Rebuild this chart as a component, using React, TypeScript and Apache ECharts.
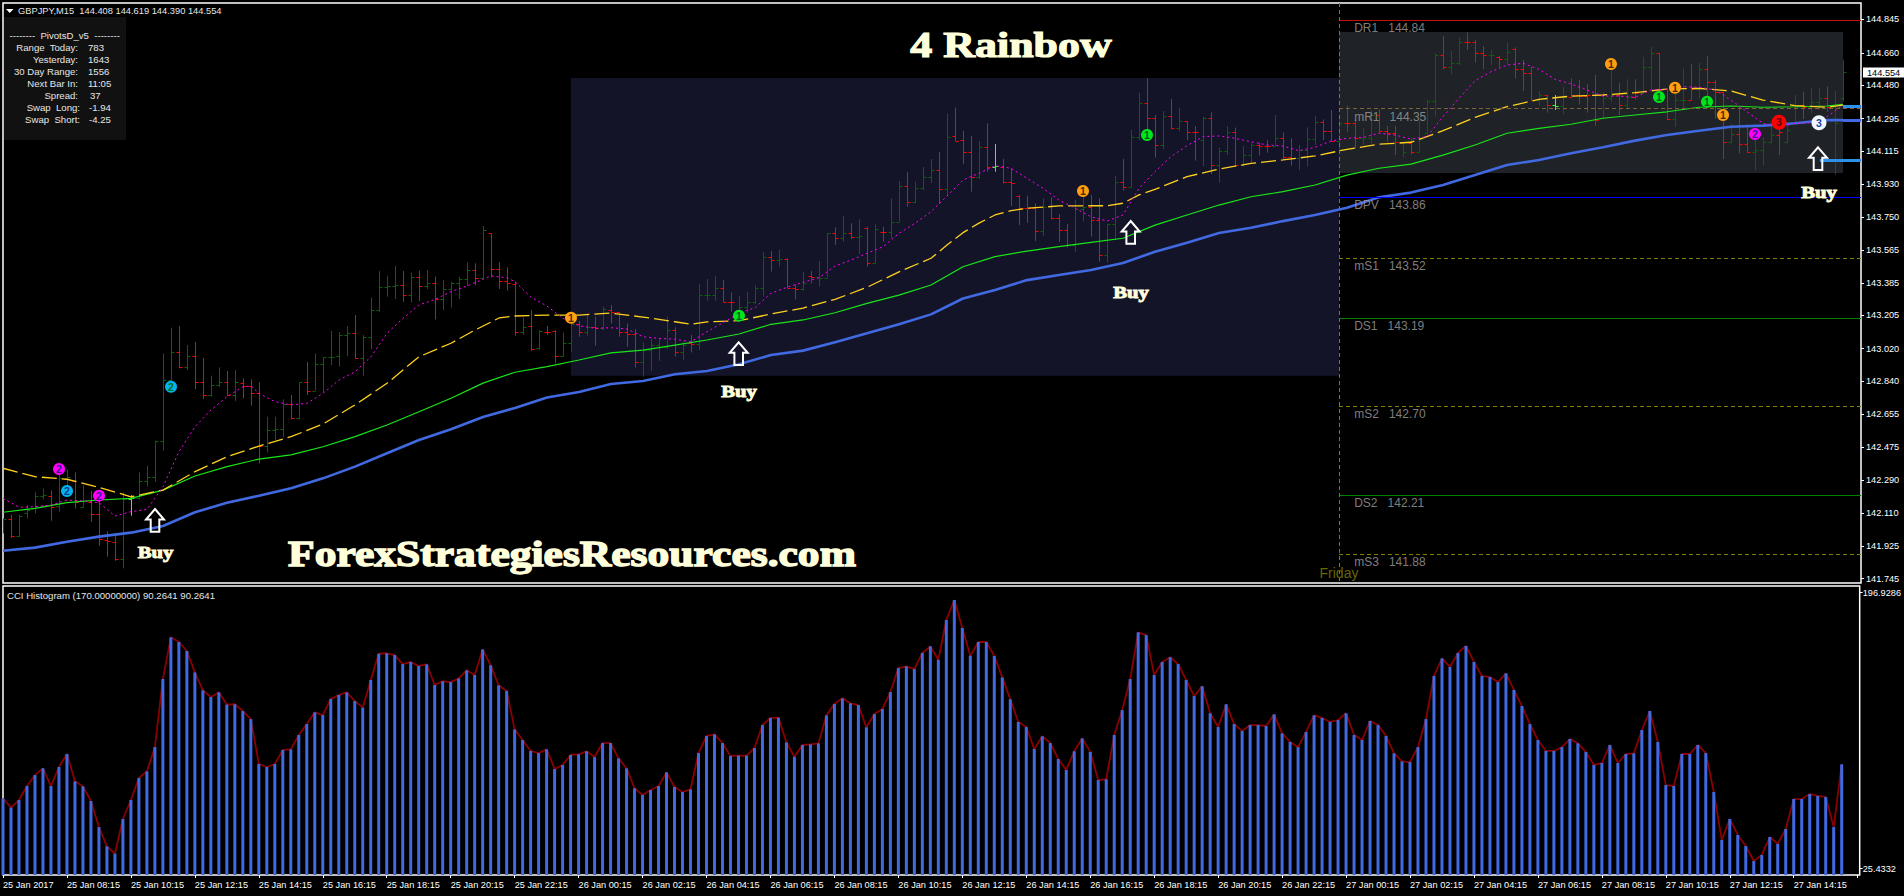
import React, { useEffect, useRef } from "react";
import * as echarts from "echarts";

const timeLabels = ["25 Jan 2017","25 Jan 08:15","25 Jan 10:15","25 Jan 12:15","25 Jan 14:15","25 Jan 16:15","25 Jan 18:15","25 Jan 20:15","25 Jan 22:15","26 Jan 00:15","26 Jan 02:15","26 Jan 04:15","26 Jan 06:15","26 Jan 08:15","26 Jan 10:15","26 Jan 12:15","26 Jan 14:15","26 Jan 16:15","26 Jan 18:15","26 Jan 20:15","26 Jan 22:15","27 Jan 00:15","27 Jan 02:15","27 Jan 04:15","27 Jan 06:15","27 Jan 08:15","27 Jan 10:15","27 Jan 12:15","27 Jan 14:15"];
const priceTicks = [144.845,144.66,144.48,144.295,144.115,143.93,143.75,143.565,143.385,143.205,143.02,142.84,142.655,142.475,142.29,142.11,141.925,141.745];
const cciTicks = [25.4332,196.9286];

const barOpen = [142.070,142.073,141.983,142.107,142.134,142.203,142.203,142.147,142.295,142.286,
142.140,142.171,142.103,141.959,141.950,141.855,142.184,142.194,142.288,142.306,
142.506,142.846,142.999,142.920,142.979,142.833,142.763,142.818,142.837,142.763,
142.827,142.813,142.772,142.480,142.569,142.576,142.711,142.637,142.833,142.787,
142.935,142.972,142.979,143.095,143.105,142.970,143.083,143.234,143.363,143.367,
143.373,143.317,143.419,143.367,143.382,143.293,143.349,143.386,143.404,143.456,
143.410,143.659,143.460,143.395,143.378,143.114,143.146,143.022,143.114,143.120,
142.979,143.049,143.155,143.114,143.142,143.133,143.234,143.221,143.110,143.101,
142.944,143.012,143.040,143.031,143.123,142.999,143.049,143.046,143.317,143.317,
143.358,143.280,143.234,143.253,143.280,143.354,143.526,143.511,143.515,143.354,
143.349,143.423,143.415,143.414,143.659,143.632,143.663,143.641,143.691,143.493,
143.669,143.669,143.724,143.922,143.835,143.909,143.970,144.012,143.905,144.199,
144.176,144.108,143.970,144.140,144.029,144.029,143.945,143.866,143.798,143.798,
143.672,143.811,143.742,143.678,143.594,143.794,143.807,143.733,143.539,143.711,
143.942,143.918,144.195,144.380,144.297,144.149,144.310,144.245,144.282,144.223,
144.176,144.297,144.038,144.117,144.223,144.038,144.093,144.149,144.145,144.145,
144.189,144.080,144.075,144.121,144.180,144.278,144.228,144.171,144.273,144.269,
144.186,144.186,144.315,144.226,144.217,144.167,144.162,144.108,144.213,144.394,
144.648,144.583,144.601,144.718,144.718,144.657,144.648,144.635,144.623,144.681,
144.568,144.546,144.398,144.426,144.370,144.367,144.413,144.426,144.420,144.426,
144.296,144.407,144.426,144.370,144.417,144.435,144.583,144.657,144.457,144.291,
144.398,144.398,144.459,144.568,144.500,144.444,144.163,144.209,144.152,144.112,
144.121,144.167,144.204,144.167,144.269,144.370,144.361,144.389,144.407,144.361,144.408];

const barHigh = [142.079,142.098,142.099,142.153,142.225,142.245,142.234,142.329,142.351,142.334,
142.264,142.231,142.199,142.007,141.999,142.223,142.208,142.334,142.371,142.510,
142.994,143.136,143.145,143.040,143.057,142.968,142.870,142.916,142.896,142.901,
142.855,142.850,142.833,142.643,142.643,142.739,142.763,142.833,142.946,142.994,
142.972,143.118,143.112,143.145,143.206,143.095,143.304,143.450,143.424,143.478,
143.450,143.441,143.452,143.456,143.419,143.400,143.391,143.419,143.498,143.493,
143.700,143.659,143.499,143.471,143.391,143.194,143.234,143.123,143.147,143.123,
143.110,143.160,143.173,143.207,143.197,143.253,143.262,143.221,143.160,143.129,
143.055,143.074,143.077,143.197,143.138,143.059,143.096,143.378,143.406,143.423,
143.401,143.332,143.312,143.336,143.371,143.554,143.561,143.567,143.521,143.377,
143.447,143.450,143.506,143.659,143.693,143.755,143.715,143.737,143.696,143.709,
143.696,143.853,143.949,144.000,143.945,144.027,144.071,144.110,144.324,144.356,
144.228,144.199,144.171,144.269,144.154,144.071,144.019,143.872,143.868,143.825,
143.853,143.859,143.766,143.711,143.844,143.894,143.872,143.853,143.711,143.977,
144.071,144.232,144.439,144.518,144.315,144.337,144.404,144.356,144.282,144.254,
144.306,144.330,144.136,144.254,144.245,144.143,144.162,144.162,144.176,144.315,
144.219,144.186,144.149,144.247,144.310,144.291,144.343,144.300,144.367,144.287,
144.241,144.343,144.346,144.254,144.254,144.164,144.186,144.287,144.398,144.657,
144.753,144.670,144.745,144.773,144.731,144.697,144.675,144.642,144.718,144.690,
144.620,144.583,144.448,144.426,144.426,144.472,144.518,144.509,144.487,144.537,
144.441,144.568,144.494,144.513,144.513,144.638,144.694,144.657,144.463,144.463,
144.574,144.596,144.605,144.642,144.509,144.444,144.265,144.361,144.263,144.195,
144.189,144.259,144.250,144.259,144.426,144.444,144.468,144.468,144.472,144.448,144.619];

const barLow = [141.996,141.972,141.977,142.079,142.107,142.184,142.066,142.116,142.199,142.134,
142.140,142.061,141.928,141.867,141.844,141.802,142.094,142.184,142.255,142.282,
142.454,142.842,142.911,142.901,142.796,142.741,142.754,142.809,142.759,142.730,
142.744,142.704,142.384,142.445,142.513,142.528,142.628,142.628,142.763,142.787,
142.778,142.929,142.920,142.979,142.962,142.870,143.018,143.225,143.308,143.295,
143.280,143.275,143.284,143.350,143.182,143.234,143.247,143.295,143.367,143.371,
143.410,143.415,143.351,143.342,143.092,143.096,143.007,143.012,143.096,142.939,
142.976,143.003,143.086,143.092,143.037,143.123,143.160,143.086,143.031,142.915,
142.865,142.898,142.952,143.018,142.976,142.957,142.999,143.012,143.286,143.286,
143.277,143.225,143.234,143.220,143.268,143.308,143.447,143.475,143.354,143.293,
143.342,143.382,143.364,143.414,143.595,143.613,143.628,143.543,143.475,143.493,
143.613,143.632,143.724,143.807,143.829,143.899,143.938,143.822,143.872,144.171,
144.043,143.890,143.960,144.001,144.001,143.936,143.811,143.705,143.718,143.617,
143.646,143.737,143.613,143.581,143.557,143.724,143.641,143.502,143.498,143.622,
143.896,143.914,144.176,144.232,144.080,144.125,144.236,144.226,144.176,144.062,
144.032,143.988,143.940,144.093,144.029,144.029,144.054,144.090,144.106,144.143,
144.069,144.034,144.010,144.029,144.149,144.176,144.167,144.121,144.223,144.130,
144.149,144.158,144.217,144.167,144.093,144.079,144.097,144.112,144.213,144.306,
144.568,144.542,144.592,144.675,144.605,144.570,144.592,144.583,144.592,144.518,
144.448,144.398,144.365,144.328,144.343,144.320,144.407,144.374,144.328,144.256,
144.296,144.389,144.315,144.352,144.402,144.435,144.453,144.453,144.287,144.250,
144.346,144.398,144.407,144.380,144.296,144.071,144.158,144.102,144.106,144.010,
144.034,144.158,144.093,144.158,144.269,144.293,144.324,144.343,144.333,143.986,144.390];

const barClose = [142.073,141.983,142.092,142.125,142.203,142.208,142.144,142.301,142.310,142.171,
142.175,142.103,141.963,141.953,141.855,142.184,142.194,142.288,142.306,142.506,
142.846,142.999,142.920,142.979,142.833,142.763,142.818,142.837,142.763,142.837,
142.813,142.772,142.480,142.569,142.576,142.711,142.637,142.833,142.787,142.935,
142.972,142.975,143.095,143.105,142.970,143.083,143.234,143.363,143.367,143.373,
143.317,143.419,143.367,143.382,143.293,143.349,143.386,143.404,143.456,143.414,
143.678,143.460,143.395,143.382,143.114,143.142,143.018,143.120,143.114,142.979,
143.049,143.155,143.114,143.142,143.133,143.238,143.221,143.110,143.101,142.944,
143.012,143.040,143.031,143.123,142.999,143.040,143.046,143.317,143.317,143.358,
143.280,143.277,143.253,143.280,143.354,143.526,143.511,143.515,143.354,143.349,
143.382,143.415,143.414,143.659,143.632,143.663,143.641,143.645,143.493,143.683,
143.669,143.724,143.922,143.835,143.909,143.970,144.012,143.905,144.195,144.173,
144.108,143.970,144.140,144.029,144.032,143.945,143.940,143.798,143.798,143.672,
143.807,143.742,143.678,143.594,143.794,143.807,143.733,143.539,143.711,143.942,
143.918,144.195,144.380,144.297,144.149,144.310,144.245,144.282,144.223,144.223,
144.297,144.038,144.117,144.223,144.038,144.093,144.149,144.145,144.145,144.189,
144.080,144.075,144.121,144.180,144.278,144.228,144.171,144.273,144.269,144.186,
144.186,144.315,144.226,144.217,144.167,144.112,144.108,144.180,144.394,144.648,
144.583,144.601,144.718,144.718,144.657,144.648,144.648,144.623,144.666,144.568,
144.546,144.398,144.426,144.370,144.367,144.413,144.426,144.420,144.426,144.287,
144.407,144.426,144.370,144.417,144.435,144.583,144.657,144.457,144.291,144.398,
144.398,144.459,144.568,144.500,144.444,144.163,144.209,144.152,144.112,144.121,
144.167,144.204,144.222,144.232,144.370,144.361,144.389,144.407,144.361,144.269,144.554];

const redBars = [1,6,9,11,12,13,14,22,24,25,28,30,31,32,36,38,44,50,52,54,59,61,62,63,64,66,68,69,72,74,76,77,78,79,84,86,90,91,96,98,99,101,104,106,108,110,113,117,119,120,121,123,125,126,127,128,129,131,132,133,136,137,140,143,144,146,148,149,151,154,157,158,160,161,165,166,168,169,172,173,174,176,180,183,184,185,187,189,190,191,193,196,197,198,199,202,204,207,208,211,213,214,215,217,218,222,225,228];
const limeBars = [16,124,194];

const blueMA: number[][] = [[0,141.900],[4,141.917],[8,141.950],[12,141.978],[16,142.000],[20,142.037],[24,142.113],[28,142.166],[32,142.205],[36,142.246],[40,142.301],[44,142.366],[48,142.440],[52,142.514],[56,142.573],[60,142.641],[64,142.691],[68,142.749],[72,142.780],[76,142.824],[80,142.841],[84,142.878],[88,142.896],[92,142.933],[96,142.985],[100,143.009],[104,143.055],[108,143.105],[112,143.155],[116,143.210],[120,143.298],[124,143.345],[128,143.400],[132,143.428],[136,143.456],[140,143.495],[144,143.557],[148,143.607],[152,143.661],[156,143.690],[160,143.727],[164,143.761],[168,143.801],[172,143.859],[176,143.885],[180,143.927],[184,143.982],[188,144.038],[192,144.066],[196,144.103],[200,144.136],[204,144.173],[208,144.204],[212,144.228],[216,144.250],[220,144.256],[224,144.269],[228,144.287],[230,144.287]];

const limeMA: number[][] = [[0,142.113],[4,142.135],[8,142.166],[12,142.181],[16,142.190],[20,142.236],[24,142.314],[28,142.366],[32,142.408],[36,142.431],[40,142.476],[44,142.532],[48,142.597],[52,142.670],[56,142.745],[60,142.829],[64,142.889],[68,142.920],[72,142.957],[76,142.997],[80,143.012],[84,143.040],[88,143.068],[92,143.101],[96,143.155],[100,143.179],[104,143.219],[108,143.271],[112,143.317],[116,143.373],[120,143.474],[124,143.530],[128,143.561],[132,143.585],[136,143.609],[140,143.632],[144,143.705],[148,143.761],[152,143.816],[156,143.862],[160,143.890],[164,143.927],[168,143.982],[172,144.020],[176,144.043],[180,144.093],[184,144.149],[188,144.214],[192,144.241],[196,144.264],[200,144.297],[204,144.315],[208,144.333],[212,144.358],[216,144.365],[220,144.358],[224,144.361],[228,144.365],[230,144.374]];

const goldMA: number[][] = [[0,142.357],[4,142.310],[8,142.296],[12,142.251],[16,142.199],[20,142.236],[24,142.338],[28,142.421],[32,142.480],[36,142.532],[40,142.602],[44,142.708],[48,142.828],[52,142.975],[56,143.050],[59,143.123],[62,143.190],[64,143.201],[68,143.206],[72,143.206],[76,143.217],[80,143.195],[84,143.169],[86,143.155],[88,143.168],[92,143.175],[96,143.212],[100,143.245],[104,143.293],[108,143.360],[112,143.446],[116,143.521],[118,143.594],[120,143.663],[122,143.716],[124,143.761],[126,143.785],[128,143.798],[132,143.811],[136,143.812],[138,143.812],[140,143.826],[142,143.872],[144,143.903],[148,143.973],[152,144.016],[156,144.047],[160,144.066],[164,144.088],[168,144.125],[172,144.153],[176,144.164],[180,144.228],[184,144.302],[188,144.361],[192,144.402],[196,144.420],[200,144.426],[204,144.439],[208,144.459],[212,144.463],[216,144.448],[220,144.398],[224,144.367],[228,144.358],[230,144.370]];

const magentaMA: number[][] = [[0,142.190],[2,142.141],[4,142.144],[6,142.153],[8,142.181],[10,142.176],[12,142.166],[14,142.092],[16,142.116],[18,142.129],[20,142.255],[22,142.449],[24,142.587],[26,142.680],[28,142.754],[30,142.809],[31,142.813],[32,142.772],[34,142.726],[36,142.708],[38,142.717],[40,142.772],[42,142.846],[44,142.892],[46,142.975],[48,143.105],[50,143.188],[52,143.262],[54,143.293],[56,143.336],[58,143.367],[61,143.423],[63,143.413],[64,143.391],[66,143.305],[68,143.256],[70,143.188],[72,143.147],[74,143.133],[76,143.136],[78,143.129],[80,143.086],[82,143.077],[84,143.072],[86,143.058],[88,143.114],[90,143.164],[92,143.216],[94,143.247],[96,143.327],[98,143.360],[100,143.388],[102,143.413],[104,143.478],[106,143.511],[108,143.548],[110,143.585],[112,143.659],[114,143.715],[116,143.779],[118,143.866],[120,143.955],[122,143.992],[124,144.034],[126,144.020],[128,143.964],[130,143.909],[132,143.844],[134,143.798],[136,143.751],[138,143.727],[140,143.761],[142,143.909],[144,144.001],[146,144.084],[148,144.145],[150,144.195],[152,144.199],[154,144.186],[156,144.167],[158,144.149],[160,144.143],[162,144.117],[164,144.136],[166,144.171],[168,144.186],[170,144.191],[172,144.214],[174,144.204],[176,144.182],[178,144.195],[180,144.306],[182,144.408],[184,144.505],[186,144.555],[188,144.592],[190,144.602],[192,144.568],[194,144.513],[196,144.487],[198,144.454],[200,144.420],[202,144.420],[204,144.413],[206,144.454],[208,144.458],[210,144.472],[212,144.469],[214,144.454],[216,144.398],[218,144.333],[220,144.269],[222,144.247],[224,144.269],[226,144.272],[228,144.306],[230,144.370]];

const cciValues = [69.1,63.4,68.1,76.8,83.6,87.8,76.8,88.6,96.7,79.7,76.6,67.5,51.3,39.3,34.8,56.3,68.1,81.8,85.9,101.0,143.3,169.2,166.3,160.7,147.4,136.3,132.1,135.0,127.4,127.6,123.4,118.4,90.5,88.6,90.5,99.2,99.6,108.5,115.3,122.6,120.9,130.9,133.4,135.0,129.6,125.5,142.7,159.0,159.3,158.2,152.6,153.9,151.4,152.4,139.6,141.9,141.4,143.7,148.7,145.8,161.7,151.8,139.4,135.9,112.0,105.4,98.6,97.3,99.6,87.4,89.9,96.1,96.5,98.4,94.8,103.5,103.5,94.0,87.8,75.4,
71.2,74.3,76.8,85.3,76.2,73.1,74.7,97.3,107.9,108.9,103.5,95.5,95.7,95.7,100.4,114.7,119.1,119.3,103.9,95.0,102.3,102.7,103.3,120.7,127.8,131.3,128.2,127.1,113.3,121.5,124.7,135.2,150.1,151.2,149.5,159.5,163.6,155.3,180.0,192.4,175.0,157.8,166.3,166.3,157.6,144.3,130.7,116.6,113.5,99.8,107.7,103.5,93.6,86.8,98.4,106.4,98.0,80.5,81.0,108.5,124.0,143.3,172.3,170.6,145.8,153.9,156.8,152.6,142.7,132.7,138.8,122.0,113.5,127.6,115.3,111.0,114.7,114.7,114.1,121.3,
109.5,104.2,101.0,110.4,120.7,119.1,116.6,117.8,122.0,108.5,105.4,117.2,114.7,107.9,97.1,92.1,91.7,101.0,118.4,145.2,156.1,150.8,159.5,163.8,153.9,145.2,144.5,141.4,146.8,136.5,126.5,115.3,105.4,98.6,98.6,101.0,106.0,103.3,98.0,89.9,91.1,102.3,91.1,96.7,97.1,111.6,123.4,104.2,77.4,76.8,96.7,96.7,102.3,97.3,73.1,43.3,56.3,46.4,39.5,30.2,33.9,45.1,40.8,50.1,68.7,68.7,71.8,70.6,70.0,51.3,90.2641];

const pivotNames = ["DR1","mR1","DPV","mS1","DS1","mS2","DS2","mS3"];
const pivotValues = [144.84,144.35,143.86,143.52,143.19,142.70,142.21,141.88];
const pivotColors = ["#c01010","#7d6238","#0000ff","#808000","#008000","#808000","#008000","#808000"];
const pivotDashed = [false,true,false,true,false,true,false,true];

const markerBars = [7,8,12,21,71,92,135,143,201,207,209,213,215,219,222,227];
const markerPrices = [142.353,142.231,142.205,142.809,143.191,143.203,143.894,144.204,144.598,144.415,144.466,144.389,144.315,144.210,144.275,144.272];
const markerDigits = ["2","2","2","2","1","1","1","1","1","1","1","1","1","2","3","3"];
const markerFills = ["#ff00ff","#00b4f0","#ff00ff","#00b4f0","#ffa010","#00e61e","#ffa010","#00e61e","#ffa010","#00e61e","#ffa010","#00e61e","#ffa010","#ff00ff","#ff0000","#f0f8ff"];
const markerInks = ["#3a1a8c","#123a8c","#3a1a8c","#0b6b20","#4a2c00","#0b5c14","#4a2c00","#0b5c14","#4a2c00","#0b5c14","#4a2c00","#0b5c14","#4a2c00","#3a1a8c","#5a0010","#2040a0"];

const tailLevels = [144.365,144.287,144.066];
const tailStarts = [230,230,227.1];
const tailColors = ["#2e90e6","#4169e1","#2e90e6"];

const infoLeft = ["Range  Today:","Yesterday:","30 Day Range:","Next Bar In:","Spread:","Swap  Long:","Swap  Short:"];
const infoRight = ["783","1643","1556","11:05","37","-1.94","-4.25"];

const AXIS_END = 232.25;
const SANS = "Liberation Sans";
const SERIF = "Liberation Serif";
const CREAM = "#ffffdc";

function text(x: number, y: number, t: string, o: any = {}, extra: any = {}) {
  return {
    type: "text", x, y, z: 100, silent: true, ...extra,
    style: { text: t, fill: "#e6e6e6", fontFamily: SANS, fontSize: 9.2, textAlign: "left", textVerticalAlign: "middle", ...o },
  };
}
function serif(x: number, y: number, t: string, size: number, sx: number, lw: number) {
  return text(x, y, t, { fill: CREAM, fontFamily: SERIF, fontWeight: "bold", fontSize: size, stroke: CREAM, lineWidth: lw, textAlign: "center" }, { scaleX: sx });
}
function arrow(x: number, y: number) {
  return {
    type: "polygon", z: 90, silent: true,
    shape: { points: [[x, y], [x + 9, y + 10.5], [x + 4.3, y + 10.5], [x + 4.3, y + 22.7], [x - 4.3, y + 22.7], [x - 4.3, y + 10.5], [x - 9, y + 10.5]] },
    style: { fill: "rgba(0,0,0,0)", stroke: "#ffffff", lineWidth: 2 },
  };
}

export default function App() {
  const ref = useRef<HTMLDivElement>(null);
  useEffect(() => {
    document.body.style.margin = "0";
    document.body.style.background = "#000";
    const chart = echarts.init(ref.current!, undefined, { renderer: "svg" });
    const ohlc = barOpen.map((o, i) => [i, o, barHigh[i], barLow[i], barClose[i]]);
    const red = new Set(redBars);
    const lime = new Set(limeBars);

    const renderBar = (_p: any, api: any) => {
      const i = api.value(0);
      const [x] = api.coord([i, api.value(1)]);
      const px = Math.round(x) + 0.5;
      const yO = Math.round(api.coord([i, api.value(1)])[1]) + 0.5;
      const yH = api.coord([i, api.value(2)])[1];
      const yL = api.coord([i, api.value(3)])[1];
      const yC = Math.round(api.coord([i, api.value(4)])[1]) + 0.5;
      const stroke = lime.has(i) ? "#32ff32" : red.has(i) ? "#ff0000" : "#0e5c0e";
      const style = { stroke, lineWidth: 1 };
      return {
        type: "group",
        children: [
          { type: "line", shape: { x1: px, y1: yH, x2: px, y2: yL }, style: { stroke, lineWidth: 1 } },
          { type: "line", shape: { x1: px - 3, y1: yO, x2: px, y2: yO }, style },
          { type: "line", shape: { x1: px, y1: yC, x2: px + 3, y2: yC }, style },
        ],
      };
    };

    const markers = markerBars.map((b, i) => ({
      value: [b, markerPrices[i]],
      name: markerDigits[i],
      symbolSize: markerDigits[i] === "3" ? 15 : 12,
      itemStyle: { color: markerFills[i], opacity: 1 },
      label: { color: markerInks[i] },
    }));

    chart.setOption({
      animation: false,
      backgroundColor: "#000000",
      grid: [
        { left: 3, top: 3, width: 1858, height: 580, show: true, borderColor: "#ffffff", borderWidth: 1.5, backgroundColor: "transparent" },
        { left: 3, top: 586, width: 1858, height: 289, show: true, borderColor: "#ffffff", borderWidth: 1.5, backgroundColor: "transparent" },
      ],
      xAxis: [
        { type: "value", gridIndex: 0, min: 0, max: AXIS_END, show: false, splitLine: { show: false }, axisLine: { show: false, onZero: false } },
        {
          type: "value", gridIndex: 1, min: 0, max: AXIS_END, interval: 8, splitLine: { show: false },
          axisLine: { show: false, onZero: false },
          axisTick: { show: true, length: 3, lineStyle: { color: "#ffffff" } },
          axisLabel: {
            color: "#ffffff", fontFamily: SANS, fontSize: 9.2, align: "left", margin: 5, showMaxLabel: false, hideOverlap: false,
            formatter: (v: number) => timeLabels[v / 8] ?? "",
          },
        },
      ],
      yAxis: [
        {
          type: "value", gridIndex: 0, position: "right", min: 141.7209, max: 144.936, splitLine: { show: false }, axisLine: { show: false, onZero: false },
          axisTick: { show: true, length: 3, lineStyle: { color: "#ffffff" }, customValues: priceTicks },
          axisLabel: { color: "#ffffff", fontFamily: SANS, fontSize: 9.2, margin: 5, customValues: priceTicks, formatter: (v: number) => v.toFixed(3) },
        },
        {
          type: "value", gridIndex: 1, position: "right", min: 21.5, max: 201.1, splitLine: { show: false }, axisLine: { show: false, onZero: false },
          axisTick: { show: true, length: 3, lineStyle: { color: "#ffffff" }, customValues: cciTicks },
          axisLabel: { color: "#ffffff", fontFamily: SANS, fontSize: 9.2, margin: 3, customValues: cciTicks, formatter: (v: number) => v.toFixed(4) },
        },
      ],
      series: [
        {
          type: "custom", name: "GBPJPY", xAxisIndex: 0, yAxisIndex: 0, z: 2, clip: true,
          renderItem: renderBar, encode: { x: 0, y: [1, 2, 3, 4] }, data: ohlc, silent: true,
          markArea: {
            silent: true,
            data: [
              [{ coord: [71, 144.520], itemStyle: { color: "#141428", opacity: 1 } }, { coord: [167, 142.870] }],
              [{ coord: [167, 144.775], itemStyle: { color: "#1f2226", opacity: 1 } }, { coord: [230, 143.994] }],
            ],
          },
          markLine: {
            silent: true, symbol: "none", label: { show: false },
            data: [
              ...pivotValues.map((v, i) => [
                { coord: [167, v], lineStyle: { color: pivotColors[i], width: 1, opacity: 1, type: pivotDashed[i] ? [4, 3] : "solid" } },
                { coord: [AXIS_END, v] },
              ]),
              [
                { coord: [167, 144.936], lineStyle: { color: "#808000", width: 1, opacity: 1, type: [4, 3] } },
                { coord: [167, 141.7209] },
              ],
              ...tailLevels.map((v, i) => [
                { coord: [tailStarts[i], v], lineStyle: { color: tailColors[i], width: 3, opacity: 1, type: "solid" } },
                { coord: [AXIS_END, v] },
              ]),
            ],
          },
        },
        { type: "line", name: "MA blue", xAxisIndex: 0, yAxisIndex: 0, z: 3, data: blueMA, showSymbol: false, silent: true, lineStyle: { color: "#4169e1", width: 2.6 } },
        { type: "line", name: "MA lime", xAxisIndex: 0, yAxisIndex: 0, z: 3, data: limeMA, showSymbol: false, silent: true, lineStyle: { color: "#19e619", width: 1.2 } },
        { type: "line", name: "MA gold", xAxisIndex: 0, yAxisIndex: 0, z: 3, data: goldMA, showSymbol: false, silent: true, lineStyle: { color: "#ffd21e", width: 1.3, type: [15, 5] } },
        { type: "line", name: "MA magenta", xAxisIndex: 0, yAxisIndex: 0, z: 3, data: magentaMA, showSymbol: false, silent: true, lineStyle: { color: "#ff00ff", width: 1, type: [2, 3] } },
        {
          type: "scatter", name: "signals", xAxisIndex: 0, yAxisIndex: 0, z: 6, data: markers, silent: true,
          label: { show: true, position: "inside", fontFamily: SANS, fontSize: 10.5, fontWeight: "bold", formatter: "{b}" },
        },
        {
          type: "scatter", name: "pivot labels", xAxisIndex: 0, yAxisIndex: 0, z: 5, symbolSize: 0, silent: true,
          data: pivotValues.map((v, i) => ({ value: [168.9, v], name: `${pivotNames[i]}   ${v.toFixed(2)}` })),
          label: { show: true, position: "inside", align: "left", offset: [0, 8], color: "#a0a0a0", fontFamily: SANS, fontSize: 12, formatter: "{b}" },
        },
        {
          type: "bar", name: "CCI histogram", xAxisIndex: 1, yAxisIndex: 1, z: 2, barWidth: 3, silent: true,
          data: cciValues.map((v, i) => [i, v]), itemStyle: { color: "#4169e1" },
        },
        {
          type: "line", name: "CCI line", xAxisIndex: 1, yAxisIndex: 1, z: 1, showSymbol: false, silent: true,
          data: cciValues.map((v, i) => [i, v]), lineStyle: { color: "#8b0000", width: 1.8 },
        },
      ],
      graphic: [
        { type: "rect", z: 80, silent: true, shape: { x: 4, y: 17, width: 122, height: 123 }, style: { fill: "#111111" } },
        { type: "polygon", z: 100, silent: true, shape: { points: [[6, 9], [13.5, 9], [9.7, 13]] }, style: { fill: "#ffffff" } },
        text(18, 10.5, "GBPJPY,M15  144.408 144.619 144.390 144.554", { fontSize: 9.3 }),
        text(7, 595, "CCI Histogram (170.00000000) 90.2641 90.2641", { fontSize: 9.6 }),
        text(64.7, 35.7, "--------  PivotsD_v5  --------", { textAlign: "center", fontSize: 9.6 }),
        ...infoLeft.map((t, i) => text(i < 5 ? 78 : 80, 47.7 + i * 12, t, { textAlign: "right", fontSize: 9.6 })),
        ...infoRight.map((t, i) => text(i === 4 ? 90 : i > 4 ? 89 : 88, 47.7 + i * 12, t, { fontSize: 9.6 })),
        text(1339, 572.7, "Friday", { fill: "#666600", fontSize: 14, textAlign: "center" }),
        { type: "rect", z: 100, silent: true, shape: { x: 1863, y: 67.5, width: 41, height: 10 }, style: { fill: "#ffffff" } },
        text(1867, 72.7, "144.554", { fill: "#000000" }),
        serif(1011, 45, "4 Rainbow", 36, 1.22, 1.2),
        serif(572, 554, "ForexStrategiesResources.com", 36, 1.21, 1.4),
        serif(155.5, 552, "Buy", 17, 1.22, 0.9),
        serif(739, 391, "Buy", 17, 1.22, 0.9),
        serif(1131, 292, "Buy", 17, 1.22, 0.9),
        serif(1819, 192, "Buy", 17, 1.22, 0.9),
        arrow(155, 509), arrow(738.7, 342.3), arrow(1130.7, 221), arrow(1818, 147.3),
      ],
    });
    return () => chart.dispose();
  }, []);
  return <div ref={ref} style={{ position: "fixed", left: 0, top: 0, width: 1904, height: 896, background: "#000" }} />;
}
